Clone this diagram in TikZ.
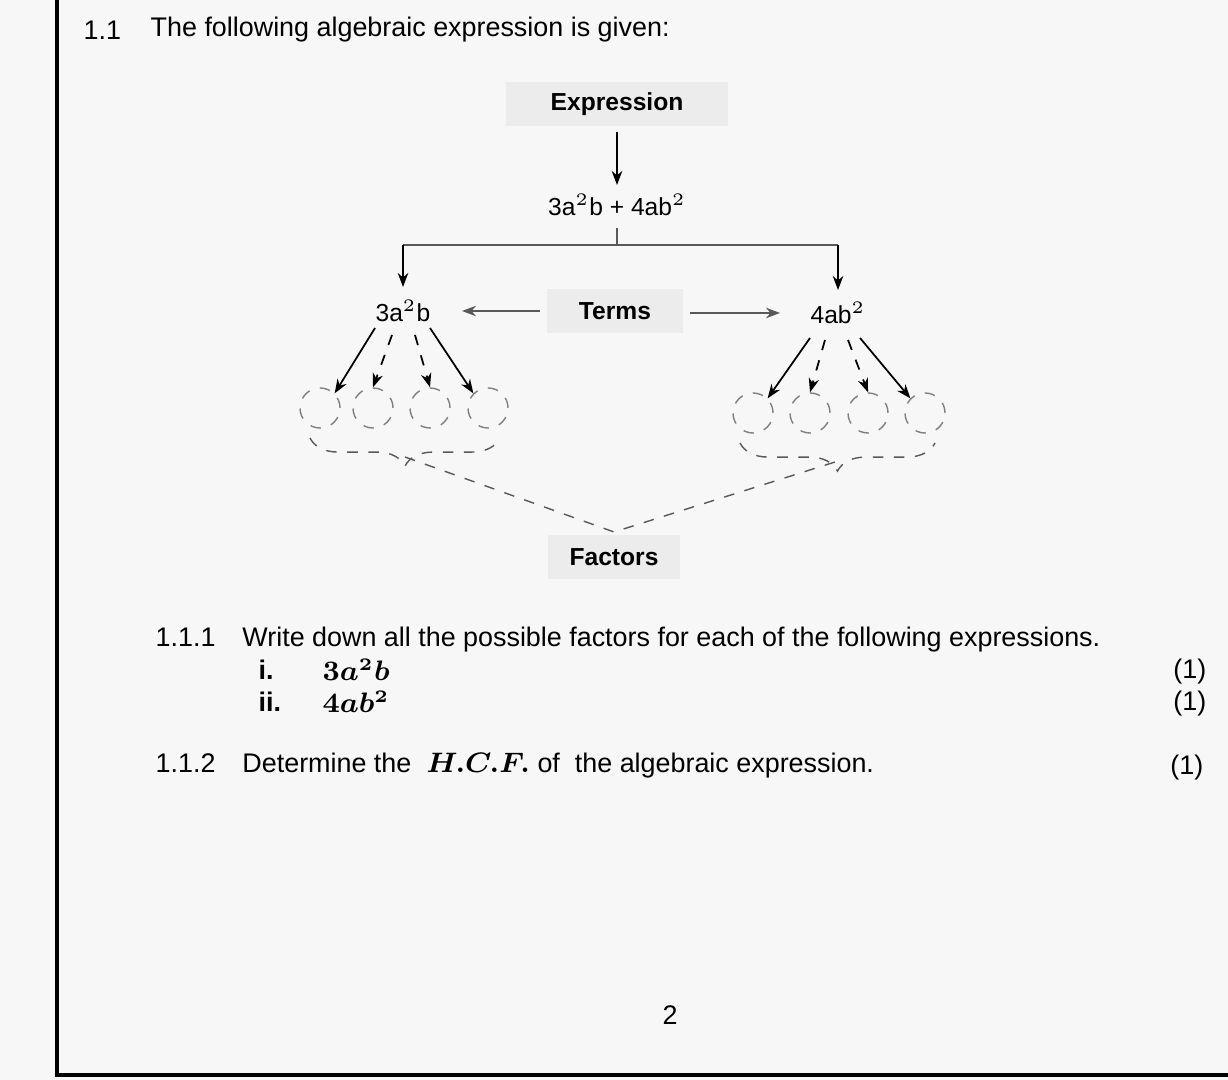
\documentclass[tikz,border=0pt]{standalone}
\usepackage{amsmath,bm}
\usepackage{fontspec}
\setmainfont{Liberation Sans}
\usetikzlibrary{arrows.meta,decorations.pathreplacing}
\begin{document}
\begin{tikzpicture}[x=0.01cm,y=-0.01cm,
  txt/.style={font=\fontsize{7.65}{9}\selectfont,inner sep=0,anchor=west},
  lbl/.style={font=\fontsize{7}{9}\selectfont,inner sep=1},
  gbox/.style={fill=gray!15,font=\fontsize{7}{9}\selectfont\bfseries,minimum width=#1,minimum height=0.43cm,inner sep=0},
  arr/.style={-{Stealth[length=4pt,width=3pt]},line width=0.5pt},
  ln/.style={line width=0.4pt,gray!70!black},
  circ/.style={circle,draw,dashed,gray,minimum size=0.4cm,inner sep=0}]
\useasboundingbox (0,0) rectangle (1228,1080);
\fill[gray!6] (0,0) rectangle (1228,1080);
\draw[line width=1pt] (57,0) -- (57,1075) -- (1228,1075);
\node[txt] (n11) at (83,30) {1.1};
\node[txt] (t11) at (150,30) {The following algebraic expression is given:};
\node[gbox=2.22cm] (expr) at (617,104) {Expression};
\node[lbl] (sum) at (617,205) {3a$^2$b + 4ab$^2$};
\draw[arr] (617,132) -- (617,185);
\coordinate (jt) at (617,245);
\draw[ln] (617,228) -- (jt);
\draw[ln] (403,245) -- (838,245);
\draw[arr] (403,245) -- (403,287);
\draw[arr] (838,245) -- (838,290);
\node[lbl] (l) at (403,311) {3a$^2$b};
\node[gbox=1.35cm] (terms) at (615,311) {Terms};
\node[lbl] (r) at (838,313) {4ab$^2$};
\draw[arr,ln] (540,311) -- (462,311);
\draw[arr,ln] (690,313) -- (780,313);
\foreach \x/\n in {320/a,373/b,430/c,488/d} \node[circ] (l\n) at (\x,408) {};
\foreach \x/\n in {753/a,810/b,868/c,925/d} \node[circ] (r\n) at (\x,413) {};
\draw[arr] (375,328) -- (la.north east);
\draw[arr,dashed] (392,335) -- (lb.north);
\draw[arr,dashed] (415,335) -- (lc.north);
\draw[arr] (430,328) -- (ld.north west);
\draw[arr] (810,338) -- (ra.north east);
\draw[arr,dashed] (825,340) -- (rb.north);
\draw[arr,dashed] (848,340) -- (rc.north);
\draw[arr] (860,338) -- (rd.north west);
\draw[decorate,decoration={brace,mirror,amplitude=8pt},ln,dashed] (310,438) -- (500,438);
\draw[decorate,decoration={brace,mirror,amplitude=8pt},ln,dashed] (740,443) -- (935,443);
\node[gbox=1.32cm] (fac) at (614,557) {Factors};
\draw[ln,dashed] (405,457) -- (614,532) -- (835,462);
\node[txt] (q1) at (155,640) {1.1.1\quad Write down all the possible factors for each of the following expressions.};
\node[txt] (qi) at (258,670) {\textbf{i.}};
\node[txt] (qia) at (322,670) {$\bm{3a^2b}$};
\node[txt] (qii) at (258,702) {\textbf{ii.}};
\node[txt] (qiia) at (322,702) {$\bm{4ab^2}$};
\node[txt,anchor=east] (m1) at (1207,672) {(1)};
\node[txt,anchor=east] (m2) at (1207,704) {(1)};
\node[txt] (q2) at (155,766) {1.1.2\quad Determine the \ $\bm{H.C.F.}$ of \ the algebraic expression.};
\node[txt,anchor=east] (m3) at (1204,768) {(1)};
\node[txt] (pg) at (662,1015) {2};
\end{tikzpicture}
\end{document}
